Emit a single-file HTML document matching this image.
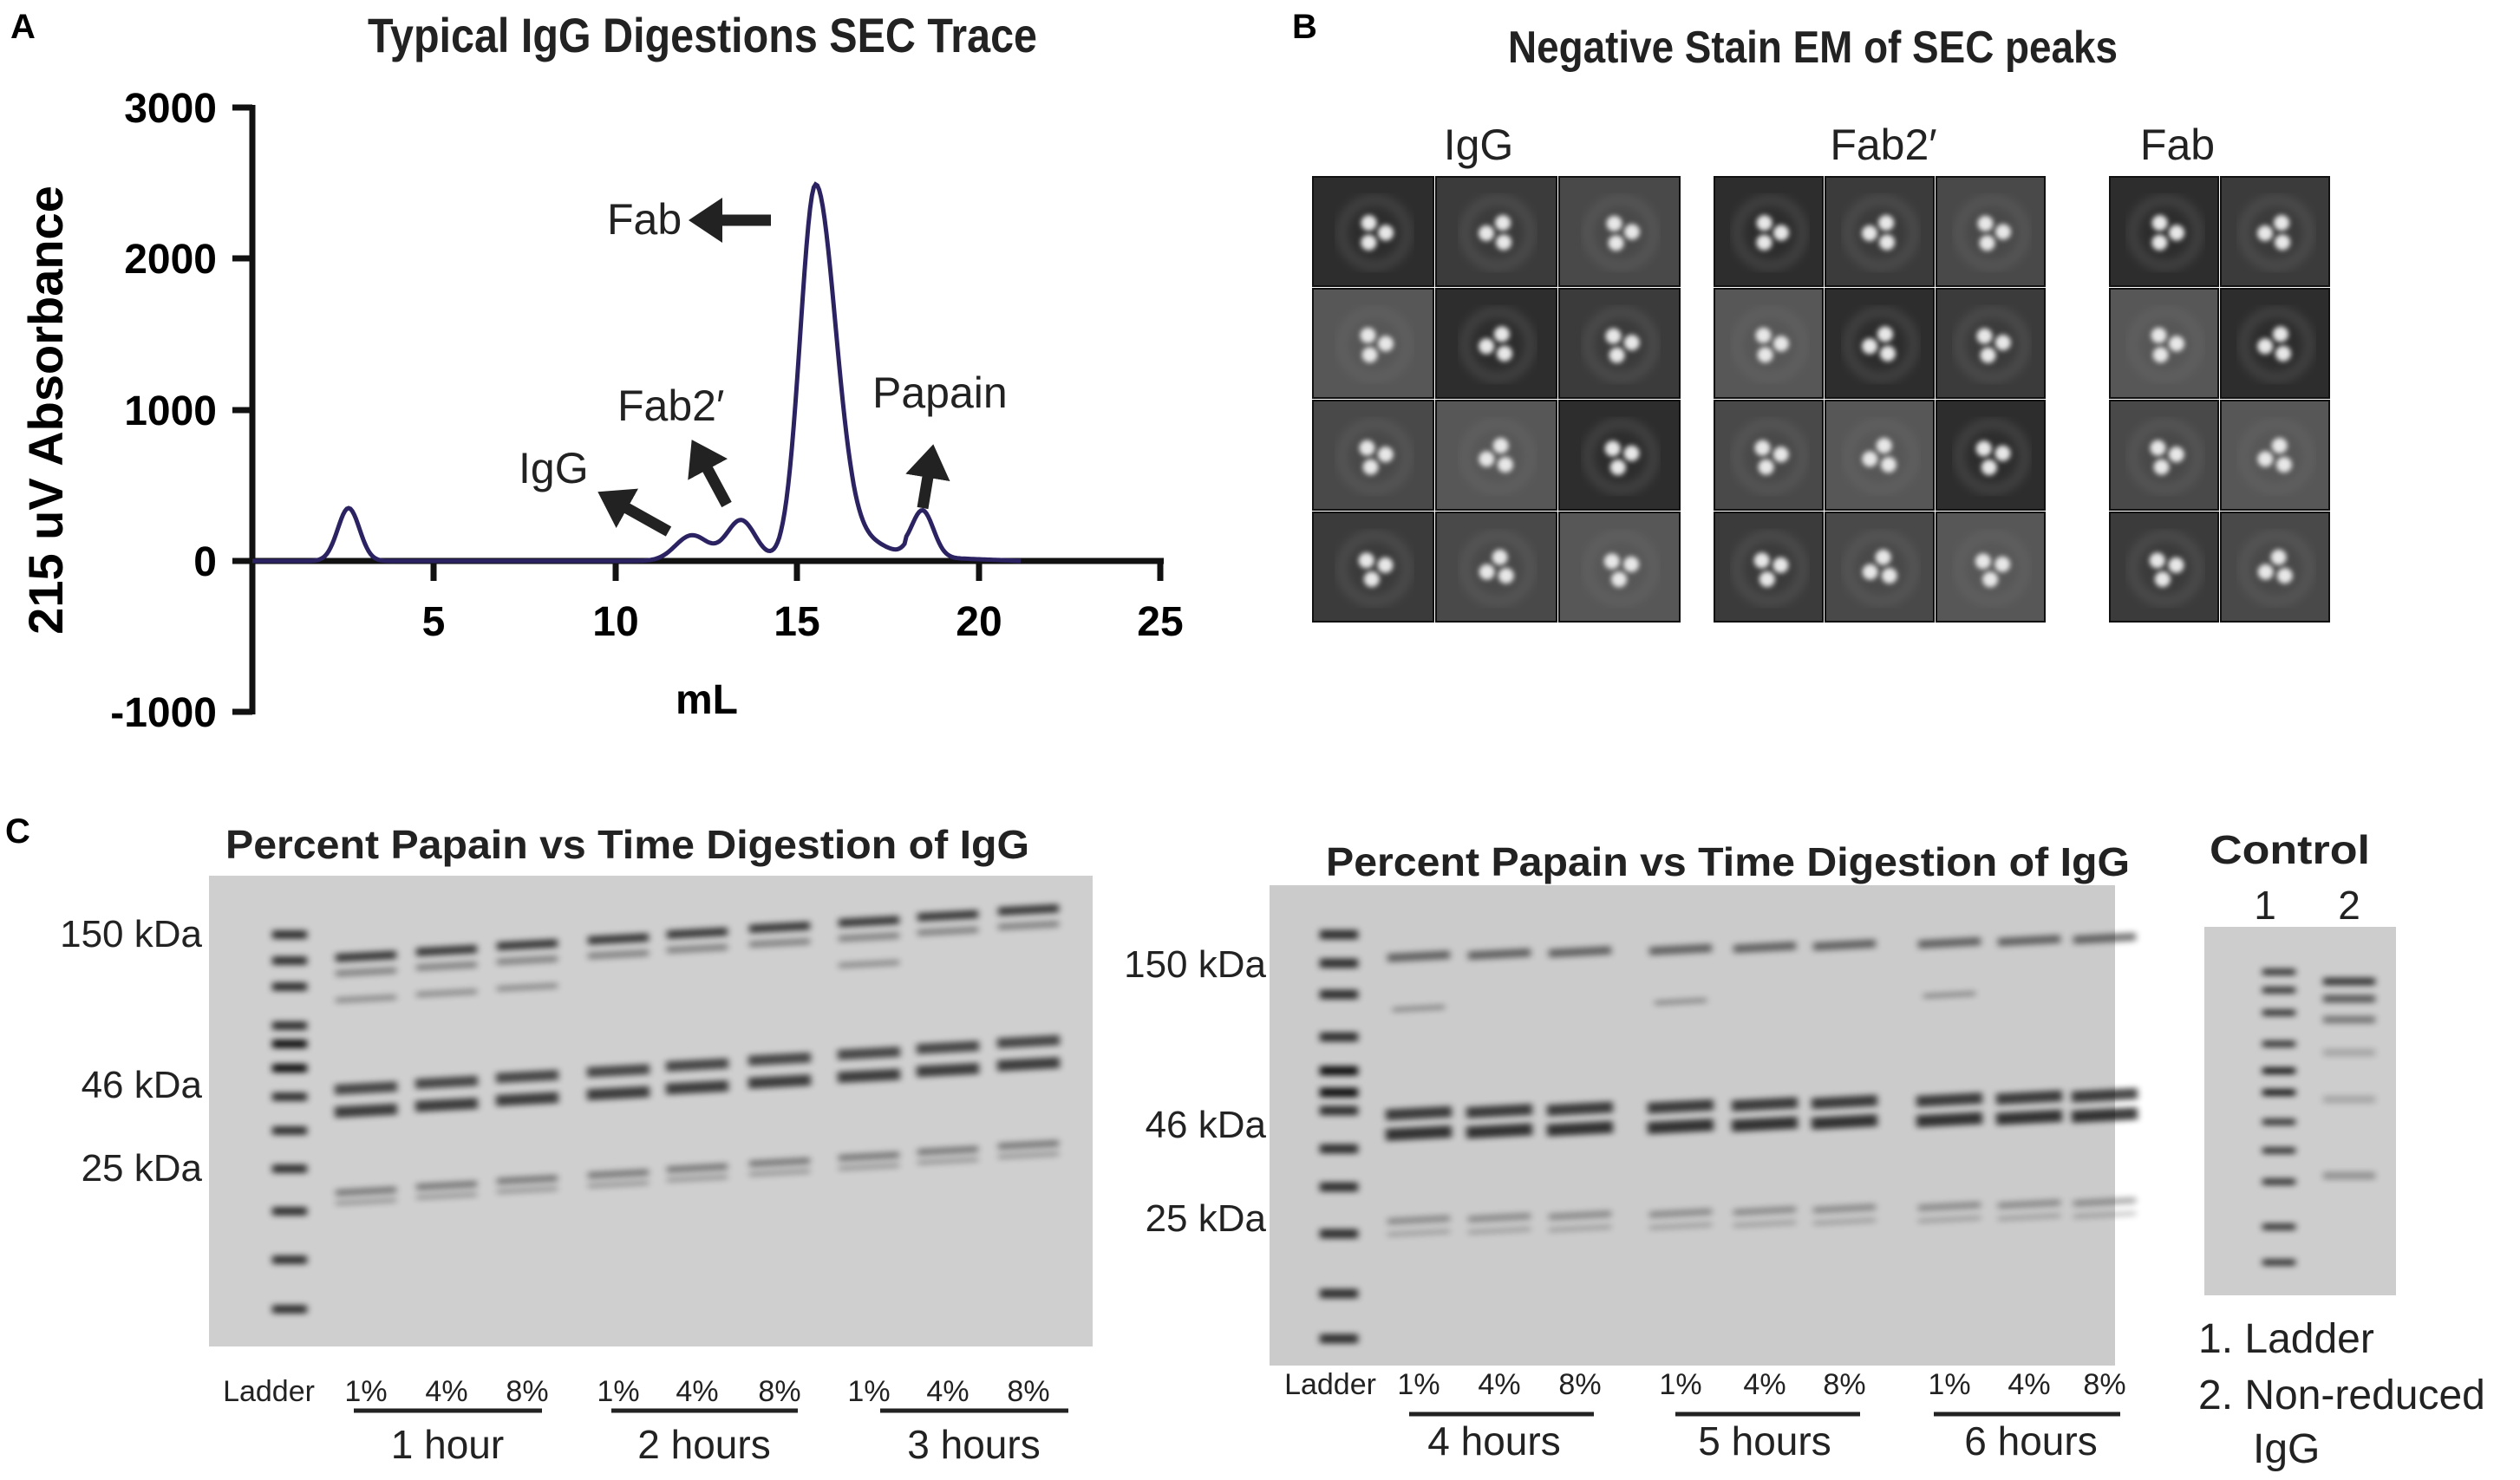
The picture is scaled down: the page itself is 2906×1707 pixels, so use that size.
<!DOCTYPE html>
<html><head><meta charset="utf-8"><style>
html,body{margin:0;padding:0;background:#fff}
svg{display:block}
text{font-family:"Liberation Sans",sans-serif}
</style></head><body>
<svg id="s" width="2906" height="1707" viewBox="0 0 2906 1707" xmlns="http://www.w3.org/2000/svg">
<defs>
<filter id="bl" x="-20%" y="-200%" width="140%" height="500%"><feGaussianBlur stdDeviation="4 3.5"/></filter>
<filter id="bl2" x="-50%" y="-50%" width="200%" height="200%"><feGaussianBlur stdDeviation="3"/></filter>
<filter id="bl3" x="-10%" y="-10%" width="120%" height="120%"><feGaussianBlur stdDeviation="6"/></filter>
<marker id="ah" markerWidth="4" markerHeight="4" refX="1" refY="2" orient="auto" markerUnits="strokeWidth"><path d="M0,0 L3,2 L0,4 z" fill="#222"/></marker>
</defs>
<text x="12" y="44" font-size="40" font-weight="bold">A</text>
<text x="1490" y="44" font-size="40" font-weight="bold">B</text>
<text x="6" y="972" font-size="40" font-weight="bold">C</text>
<!-- Chart A -->
<text x="424" y="60" font-size="56" font-weight="bold" fill="#222" textLength="772" lengthAdjust="spacingAndGlyphs">Typical IgG Digestions SEC Trace</text>
<g stroke="#111" stroke-width="7" fill="none">
<line x1="291" y1="121" x2="291" y2="824"/>
<line x1="288" y1="647" x2="1342" y2="647"/>
<line x1="268" y1="124" x2="291" y2="124"/><line x1="268" y1="298" x2="291" y2="298"/><line x1="268" y1="473" x2="291" y2="473"/><line x1="268" y1="647" x2="291" y2="647"/><line x1="268" y1="821" x2="291" y2="821"/>
<line x1="500" y1="647" x2="500" y2="670"/><line x1="710" y1="647" x2="710" y2="670"/><line x1="919" y1="647" x2="919" y2="670"/><line x1="1129" y1="647" x2="1129" y2="670"/><line x1="1338" y1="647" x2="1338" y2="670"/>
</g>
<g font-size="48" font-weight="bold" text-anchor="end">
<text x="250" y="141">3000</text><text x="250" y="315">2000</text><text x="250" y="490">1000</text><text x="250" y="664">0</text><text x="250" y="838">-1000</text>
</g>
<g font-size="48" font-weight="bold" text-anchor="middle">
<text x="500" y="733">5</text><text x="710" y="733">10</text><text x="919" y="733">15</text><text x="1129" y="733">20</text><text x="1338" y="733">25</text>
<text x="815" y="823">mL</text>
</g>
<text transform="translate(72 473) rotate(-90)" font-size="56" font-weight="bold" text-anchor="middle">215 uV Absorbance</text>
<path id="curve" fill="none" stroke="#2b2262" stroke-width="5"/>
<g font-size="50" fill="#222">
<text x="700" y="270">Fab</text>
<text x="598" y="557">IgG</text>
<text x="712" y="485">Fab2′</text>
<text x="1006" y="470">Papain</text>
</g>
<g stroke="#222" stroke-width="13" marker-end="url(#ah)">
<line x1="889" y1="254" x2="820" y2="254"/>
<line x1="771" y1="613" x2="712" y2="580"/>
<line x1="838" y1="582" x2="810" y2="530"/>
<line x1="1064" y1="586" x2="1072" y2="538"/>
</g>
<!-- Panel B -->
<text x="1739" y="72" font-size="52" font-weight="bold" fill="#222" textLength="703" lengthAdjust="spacingAndGlyphs">Negative Stain EM of SEC peaks</text>
<g font-size="50" text-anchor="middle" fill="#222">
<text x="1705" y="184">IgG</text><text x="2172" y="184">Fab2′</text><text x="2511" y="184">Fab</text>
</g>
<g id="em"></g>
<!-- Panel C -->
<g font-size="46" font-weight="bold" fill="#222">
<text x="260" y="990" textLength="927" lengthAdjust="spacingAndGlyphs">Percent Papain vs Time Digestion of IgG</text>
<text x="1529" y="1010" textLength="927" lengthAdjust="spacingAndGlyphs">Percent Papain vs Time Digestion of IgG</text>
<text x="2548" y="996" textLength="185" lengthAdjust="spacingAndGlyphs">Control</text>
</g>
<rect x="241" y="1010" width="1019" height="543" fill="#cfcfcf"/>
<rect x="1464" y="1021" width="975" height="554" fill="#cbcbcb"/>
<rect x="2542" y="1069" width="221" height="425" fill="#cdcdcd"/>
<g id="bands"></g>
<g font-size="44" fill="#222" text-anchor="end">
<text x="233" y="1092">150 kDa</text><text x="233" y="1266">46 kDa</text><text x="233" y="1362">25 kDa</text>
<text x="1460" y="1127">150 kDa</text><text x="1460" y="1312">46 kDa</text><text x="1460" y="1420">25 kDa</text>
</g>
<g font-size="46" fill="#222" text-anchor="middle">
<text x="2612" y="1060">1</text><text x="2709" y="1060">2</text>
</g>
<g font-size="34" fill="#222" text-anchor="middle">
<text x="310" y="1616">Ladder</text>
<text x="422" y="1616">1%</text><text x="515" y="1616">4%</text><text x="608" y="1616">8%</text>
<text x="713" y="1616">1%</text><text x="804" y="1616">4%</text><text x="899" y="1616">8%</text>
<text x="1002" y="1616">1%</text><text x="1093" y="1616">4%</text><text x="1186" y="1616">8%</text>
<text x="1534" y="1608">Ladder</text>
<text x="1636" y="1608">1%</text><text x="1729" y="1608">4%</text><text x="1822" y="1608">8%</text>
<text x="1938" y="1608">1%</text><text x="2035" y="1608">4%</text><text x="2127" y="1608">8%</text>
<text x="2248" y="1608">1%</text><text x="2340" y="1608">4%</text><text x="2427" y="1608">8%</text>
</g>
<g stroke="#222" stroke-width="5">
<line x1="408" y1="1627" x2="625" y2="1627"/><line x1="705" y1="1627" x2="920" y2="1627"/><line x1="1015" y1="1627" x2="1232" y2="1627"/>
<line x1="1625" y1="1631" x2="1838" y2="1631"/><line x1="1932" y1="1631" x2="2145" y2="1631"/><line x1="2230" y1="1631" x2="2445" y2="1631"/>
</g>
<g font-size="46" fill="#222" text-anchor="middle">
<text x="516" y="1682">1 hour</text><text x="812" y="1682">2 hours</text><text x="1123" y="1682">3 hours</text>
<text x="1723" y="1678">4 hours</text><text x="2035" y="1678">5 hours</text><text x="2342" y="1678">6 hours</text>
</g>
<g font-size="48" fill="#222">
<text x="2535" y="1560">1. Ladder</text>
<text x="2535" y="1625">2. Non-reduced</text>
<text x="2598" y="1687">IgG</text>
</g>
</svg>
<script>
(function(){
var NS="http://www.w3.org/2000/svg";
function g(x,a,m,s){return a*Math.exp(-0.5*Math.pow((x-m)/s,2));}
var d="";
for(var x=0;x<=21.2;x+=0.05){
 var s15=x<15.5?0.42:0.55;
 var v=g(x,350,2.65,0.3)+g(x,170,12.1,0.45)+g(x,270,13.45,0.4)+g(x,2480,15.5,s15)+g(x,120,16.9,0.7)+g(x,300,18.45,0.3)+(x>18&&x<21.2?30*(1-(x-18)/3.2):0);
 var px=291+x*41.9, py=647-v*0.174;
 d+=(d?"L":"M")+px.toFixed(1)+","+py.toFixed(1);
}
document.getElementById("curve").setAttribute("d",d);
var b=document.getElementById("bands");
function band(x,y,w,h,op,sl){
 var r=document.createElementNS(NS,"rect");
 r.setAttribute("x",x-w/2);r.setAttribute("y",y-h/2);r.setAttribute("width",w);r.setAttribute("height",h);
 r.setAttribute("fill","#000");r.setAttribute("opacity",op);r.setAttribute("filter","url(#bl)");
 if(sl)r.setAttribute("transform","rotate("+sl+" "+x+" "+y+")");
 b.appendChild(r);
}
[1078,1108,1138,1183,1204,1232,1265,1304,1348,1397,1453,1510].forEach(function(y,i){band(334,y,40,10,i==4||i==5?0.9:0.75);});
var l1=[422,515,608,713,804,899,1002,1093,1186];
l1.forEach(function(x,i){var o=-i*6.7;
 band(x,1103+o,70,10,0.7,-3);band(x,1121+o,70,8,0.35,-3);
 if(i<3||i==6)band(x,1152+o,70,7,0.3,-3);
 band(x,1255+o,72,12,0.65,-3);band(x,1281+o,72,13,0.7,-3);
 band(x,1374+o,70,8,0.4,-3);band(x,1386+o,70,6,0.25,-3);});
[1078,1111,1147,1196,1235,1260,1281,1325,1369,1423,1492,1544].forEach(function(y,i){band(1544,y,44,11,i==4||i==5?0.9:0.75);});
var l2=[1636,1729,1822,1938,2035,2127,2248,2340,2427];
l2.forEach(function(x,i){var o=-i*2.6;
 band(x,1103+o,72,10,0.5,-3);
 if(i==0||i==3||i==6)band(x,1163+o,60,6,0.3,-3);
 band(x,1284+o,76,13,0.7,-3);band(x,1307+o,76,14,0.75,-3);
 band(x,1407+o,72,8,0.3,-3);band(x,1422+o,72,6,0.2,-3);});
[1121,1142,1168,1204,1235,1260,1294,1327,1363,1415,1456].forEach(function(y,i){band(2628,y,38,8,i==4||i==5?0.85:0.7);});
[[1132,0.7],[1152,0.55],[1176,0.4],[1214,0.18],[1268,0.18],[1356,0.28]].forEach(function(p){band(2709,p[0],60,9,p[1]);});
var em=document.getElementById("em");
function grid(x0,y0,cols,rows,cw,ch){
 for(var r=0;r<rows;r++)for(var c=0;c<cols;c++){
  var x=x0+c*cw,y=y0+r*ch;
  var re=document.createElementNS(NS,"rect");
  var shade=45+((r*7+c*13)%4)*14;
  re.setAttribute("x",x);re.setAttribute("y",y);re.setAttribute("width",cw-3);re.setAttribute("height",ch-3);
  re.setAttribute("fill","rgb("+shade+","+shade+","+shade+")");re.setAttribute("stroke","#111");re.setAttribute("stroke-width","2");
  em.appendChild(re);
  var cx=x+cw/2,cy=y+ch/2;
  var hal=document.createElementNS(NS,"circle");
  hal.setAttribute("cx",cx);hal.setAttribute("cy",cy);hal.setAttribute("r",38);
  hal.setAttribute("fill","none");hal.setAttribute("stroke","#777");hal.setAttribute("stroke-width","10");hal.setAttribute("opacity","0.35");hal.setAttribute("filter","url(#bl3)");
  em.appendChild(hal);
  for(var k=0;k<3;k++){
   var ci=document.createElementNS(NS,"circle");
   var ang=(r*2+c+k*2.1);
   ci.setAttribute("cx",cx+Math.cos(ang)*13);ci.setAttribute("cy",cy+Math.sin(ang)*13);ci.setAttribute("r",9);
   ci.setAttribute("fill","#e8e8e8");ci.setAttribute("filter","url(#bl2)");em.appendChild(ci);
  }
 }
}
grid(1514,204,3,4,142,129);
grid(1977,204,3,4,128,129);
grid(2433,204,2,4,128,129);
})();
</script>
</body></html>
